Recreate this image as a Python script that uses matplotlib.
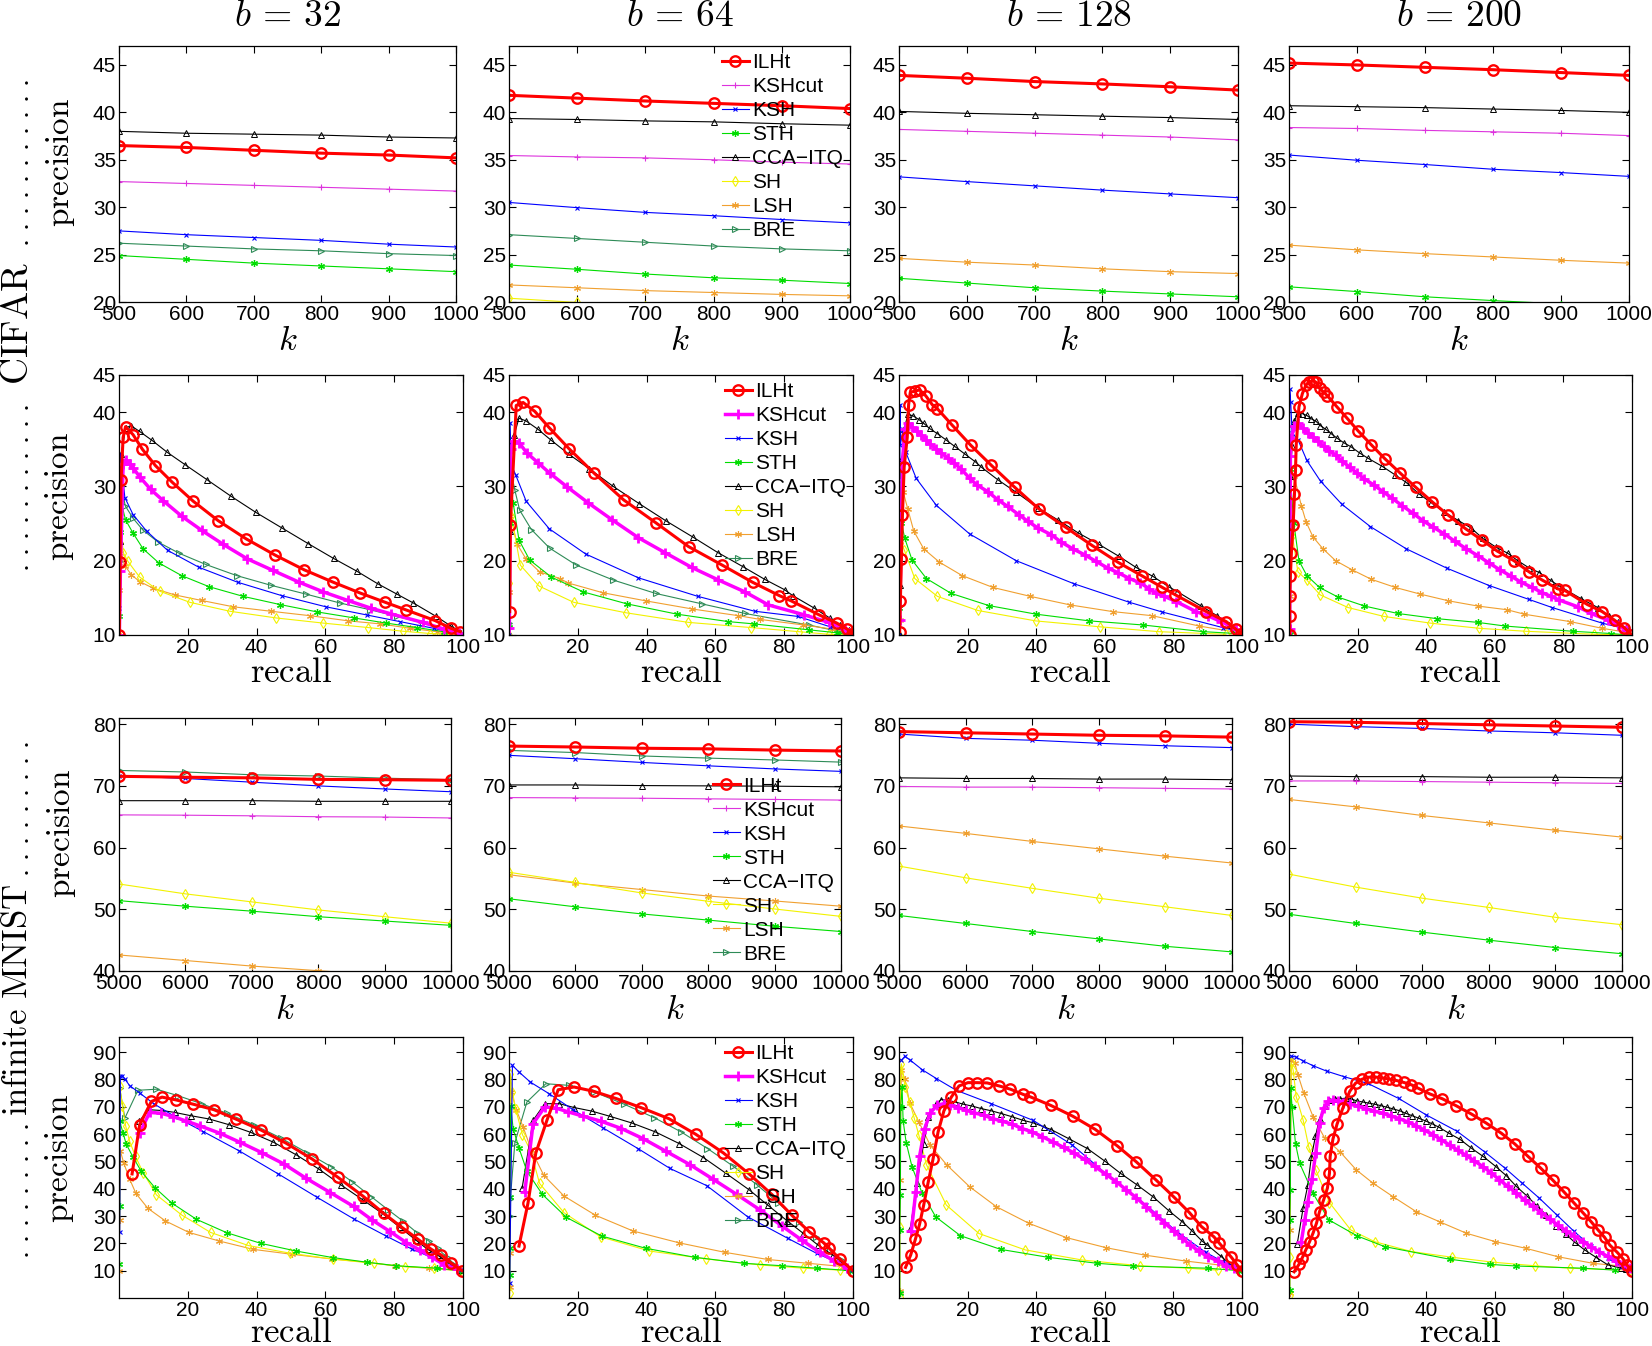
import matplotlib.pyplot as plt
import numpy as np

plt.rcParams['mathtext.fontset'] = 'cm'
plt.rcParams['font.family'] = ['Liberation Sans', 'DejaVu Sans']

methods = ['ILHt', 'KSHcut', 'KSH', 'STH', 'CCA\u2212ITQ', 'SH', 'LSH', 'BRE']
bits = [32, 64, 128, 200]

# ---- precision vs k, CIFAR ----
cifar_k = [500, 600, 700, 800, 900, 1000]
cifar_k_b32 = {
    'ILHt': [36.5, 36.3, 36.0, 35.7, 35.5, 35.2],
    'KSHcut': [32.7, 32.5, 32.3, 32.1, 31.9, 31.7],
    'KSH': [27.5, 27.1, 26.8, 26.5, 26.1, 25.8],
    'STH': [24.9, 24.5, 24.1, 23.8, 23.5, 23.2],
    'CCA\u2212ITQ': [38.0, 37.8, 37.7, 37.6, 37.4, 37.3],
    'BRE': [26.2, 25.9, 25.6, 25.4, 25.1, 24.9],
}
cifar_k_b64 = {
    'ILHt': [41.8, 41.5, 41.2, 40.95, 40.7, 40.4],
    'KSHcut': [35.45, 35.3, 35.2, 35.0, 34.75, 34.55],
    'KSH': [30.5, 29.95, 29.45, 29.1, 28.7, 28.35],
    'STH': [23.9, 23.45, 22.95, 22.55, 22.3, 21.95],
    'CCA\u2212ITQ': [39.35, 39.25, 39.1, 39.0, 38.8, 38.65],
    'SH': [20.4, 19.95, 19.6, 19.3, 19.0, 18.8],
    'LSH': [21.8, 21.5, 21.2, 21.0, 20.8, 20.65],
    'BRE': [27.1, 26.7, 26.3, 25.9, 25.6, 25.4],
}
cifar_k_b128 = {
    'ILHt': [43.9, 43.6, 43.25, 43.0, 42.7, 42.35],
    'KSHcut': [38.2, 38.0, 37.8, 37.6, 37.4, 37.1],
    'KSH': [33.2, 32.7, 32.25, 31.8, 31.4, 31.0],
    'STH': [22.5, 22.0, 21.5, 21.15, 20.85, 20.55],
    'CCA\u2212ITQ': [40.1, 39.9, 39.75, 39.6, 39.45, 39.25],
    'LSH': [24.6, 24.2, 23.9, 23.5, 23.2, 23.0],
}
cifar_k_b200 = {
    'ILHt': [45.2, 45.0, 44.75, 44.5, 44.2, 43.9],
    'KSHcut': [38.4, 38.3, 38.1, 37.95, 37.8, 37.55],
    'KSH': [35.5, 34.95, 34.5, 34.0, 33.65, 33.25],
    'STH': [21.6, 21.1, 20.55, 20.15, 19.8, 19.4],
    'CCA\u2212ITQ': [40.7, 40.6, 40.5, 40.35, 40.2, 40.0],
    'LSH': [26.0, 25.5, 25.1, 24.75, 24.4, 24.1],
}

# ---- precision vs k, infinite MNIST ----
mnist_k = [5000, 6000, 7000, 8000, 9000, 10000]
mnist_k_b32 = {
    'ILHt': [71.55, 71.4, 71.3, 71.05, 71.0, 70.9],
    'KSHcut': [65.3, 65.25, 65.15, 65.0, 64.95, 64.8],
    'KSH': [71.65, 71.2, 70.6, 70.0, 69.5, 69.05],
    'STH': [51.4, 50.5, 49.7, 48.8, 48.1, 47.4],
    'CCA\u2212ITQ': [67.6, 67.6, 67.6, 67.5, 67.5, 67.5],
    'SH': [54.1, 52.5, 51.2, 49.9, 48.8, 47.75],
    'LSH': [42.6, 41.7, 40.8, 40.05, 39.3, 38.5],
    'BRE': [72.5, 72.25, 71.8, 71.6, 71.25, 71.0],
}
mnist_k_b64 = {
    'ILHt': [76.45, 76.3, 76.1, 76.0, 75.8, 75.65],
    'KSHcut': [68.1, 68.05, 68.0, 67.9, 67.8, 67.7],
    'KSH': [74.95, 74.4, 73.8, 73.25, 72.75, 72.35],
    'STH': [51.7, 50.4, 49.25, 48.25, 47.25, 46.4],
    'CCA\u2212ITQ': [70.15, 70.15, 70.05, 70.0, 69.95, 69.85],
    'SH': [56.0, 54.35, 52.65, 51.3, 50.05, 48.85],
    'LSH': [55.6, 54.25, 53.2, 52.15, 51.35, 50.5],
    'BRE': [75.75, 75.4, 74.85, 74.5, 74.2, 73.85],
}
mnist_k_b128 = {
    'ILHt': [78.8, 78.6, 78.4, 78.2, 78.1, 77.9],
    'KSHcut': [69.9, 69.8, 69.8, 69.7, 69.6, 69.5],
    'KSH': [78.4, 77.7, 77.4, 76.9, 76.5, 76.2],
    'STH': [49.0, 47.7, 46.4, 45.2, 44.0, 43.1],
    'CCA\u2212ITQ': [71.3, 71.2, 71.2, 71.1, 71.1, 71.0],
    'SH': [57.0, 55.1, 53.4, 51.8, 50.4, 49.0],
    'LSH': [63.5, 62.3, 61.0, 59.8, 58.6, 57.5],
}
mnist_k_b200 = {
    'ILHt': [80.4, 80.3, 80.1, 79.9, 79.7, 79.5],
    'KSHcut': [70.8, 70.8, 70.7, 70.6, 70.5, 70.4],
    'KSH': [80.0, 79.6, 79.3, 78.9, 78.6, 78.2],
    'STH': [49.2, 47.7, 46.3, 45.0, 43.8, 42.8],
    'CCA\u2212ITQ': [71.6, 71.5, 71.5, 71.4, 71.4, 71.3],
    'SH': [55.7, 53.6, 51.8, 50.3, 48.7, 47.5],
    'LSH': [67.8, 66.6, 65.2, 64.0, 62.8, 61.7],
}

# ---- precision-recall, CIFAR (recall, precision) ----
cifar_pr_b32 = {
    'ILHt': [(0.1, 10.0), (0.3, 19.8), (0.6, 30.9), (1.2, 36.6), (1.9, 38.05), (4.1, 36.96), (6.8, 35.0), (10.6, 32.8),
             (15.5, 30.55), (21.6, 28.0), (28.8, 25.4), (36.9, 22.96), (45.4, 20.75), (53.9, 18.76), (62.3, 17.1),
             (70.1, 15.65), (77.4, 14.4), (83.3, 13.4), (91.9, 11.94), (96.5, 10.9), (99.2, 10.45)],
    'KSHcut': [(0.1, 10.0), (0.4, 18.6), (1.2, 33.0), (1.9, 33.6), (3.1, 33.0), (4.1, 32.5), (6.0, 31.3), (9.2, 29.6),
               (12.8, 28.1), (18.2, 26.0), (24.0, 24.1), (30.3, 22.2), (37.3, 20.25), (44.7, 18.7), (52.4, 17.1),
               (59.4, 15.8), (66.5, 14.65), (73.3, 13.6), (79.0, 12.85), (88.3, 11.7), (94.4, 10.8), (98.7, 10.3)],
    'KSH': [(0.05, 13.6), (0.2, 32.6), (0.4, 34.4), (1.7, 28.5), (4.1, 26.2), (8.0, 24.0), (14.1, 21.4), (23.3, 19.1),
            (34.5, 17.1), (47.3, 15.3), (60.1, 13.8), (72.0, 12.7), (81.7, 11.8), (91.5, 10.9), (98.3, 10.3)],
    'STH': [(0.05, 12.5), (0.2, 23.8), (0.4, 28.3), (1.9, 25.5), (4.1, 23.7), (7.0, 21.6), (11.6, 19.7), (18.2, 18.0),
            (26.2, 16.5), (36.1, 15.2), (46.8, 14.1), (57.7, 13.1), (68.3, 12.3), (77.7, 11.6), (86.6, 11.0),
            (94.4, 10.45), (99.2, 10.1)],
    'CCA\u2212ITQ': [(0.05, 10.0), (0.2, 22.6), (0.7, 34.4), (1.9, 37.8), (3.4, 38.2), (6.0, 37.4), (9.6, 36.2),
                     (14.0, 34.6), (19.3, 32.9), (25.6, 30.9), (32.5, 28.7), (39.8, 26.5), (47.4, 24.4), (55.0, 22.3),
                     (62.4, 20.3), (69.1, 18.6), (75.2, 16.9), (80.8, 15.5), (85.6, 14.3), (92.2, 12.5), (96.5, 11.2),
                     (99.2, 10.45)],
    'SH': [(0.05, 10.0), (0.2, 22.4), (0.4, 26.3), (1.2, 21.1), (2.6, 19.9), (6.0, 17.8), (11.8, 15.9), (20.6, 14.4),
           (32.2, 13.2), (45.6, 12.3), (59.4, 11.6), (72.5, 11.0), (82.7, 10.5), (90.5, 10.2), (99.2, 10.0)],
    'LSH': [(0.05, 16.1), (0.2, 21.1), (1.7, 19.35), (3.6, 18.1), (6.0, 17.2), (9.9, 16.3), (16.2, 15.4), (24.0, 14.65),
            (33.2, 13.8), (44.1, 13.2), (55.5, 12.6), (66.7, 11.9), (75.9, 11.5), (84.7, 10.9), (92.4, 10.45),
            (98.7, 10.1)],
    'BRE': [(0.2, 19.9), (0.4, 28.1), (0.7, 30.1), (1.8, 27.4), (4.1, 25.7), (7.0, 24.1), (11.4, 22.5), (17.5, 21.0),
            (25.2, 19.5), (34.2, 18.0), (44.1, 16.7), (54.4, 15.5), (64.3, 14.3), (73.0, 13.4), (80.8, 12.5),
            (88.5, 11.6), (95.3, 10.8), (99.0, 10.3)],
}
cifar_pr_b64 = {
    'ILHt': [(0.2, 13.15), (0.4, 24.8), (2.1, 40.9), (4.1, 41.3), (7.5, 40.1), (11.7, 37.9), (17.4, 35.1), (24.7, 31.8),
             (33.3, 28.2), (42.7, 25.1), (52.2, 21.9), (62.0, 19.4), (70.8, 17.1), (78.6, 15.3), (82.0, 14.6),
             (90.2, 12.7), (95.3, 11.6), (98.3, 10.8), (99.7, 10.2)],
    'KSHcut': [(0.1, 11.0), (0.5, 35.0), (1.2, 36.1), (2.9, 35.9), (5.2, 34.5), (8.4, 33.2), (11.8, 31.8), (17.0, 29.9),
               (23.0, 27.8), (30.0, 25.5), (37.6, 23.1), (45.3, 21.1), (53.1, 19.1), (60.9, 17.4), (68.6, 15.8),
               (75.4, 14.05), (85.9, 12.7), (92.9, 11.7), (97.8, 10.8)],
    'KSH': [(0.05, 10.0), (0.3, 38.6), (0.7, 32.9), (1.9, 31.6), (5.0, 28.0), (11.7, 24.3), (22.3, 20.9), (37.6, 17.7),
            (54.9, 15.2), (71.4, 13.2), (84.0, 12.5), (93.4, 11.1), (99.0, 10.45)],
    'STH': [(0.05, 11.1), (0.2, 25.1), (0.4, 30.5), (1.2, 27.8), (2.9, 22.8), (6.0, 20.1), (12.3, 17.8), (21.6, 15.8),
            (34.2, 14.2), (48.9, 12.8), (63.8, 11.8), (71.1, 11.5), (87.1, 10.7), (95.3, 10.3), (99.2, 10.0)],
    'CCA\u2212ITQ': [(0.1, 10.0), (0.4, 24.0), (1.5, 36.9), (2.9, 39.2), (5.0, 38.8), (8.4, 37.7), (12.3, 36.2),
                     (17.5, 34.3), (23.3, 32.4), (30.3, 30.0), (37.8, 27.7), (45.5, 25.4), (53.4, 23.2), (60.7, 21.1),
                     (68.0, 19.2), (74.3, 17.5), (80.1, 16.1), (82.5, 15.3), (88.8, 13.6), (93.2, 12.3), (96.3, 11.3),
                     (98.7, 10.7)],
    'SH': [(0.05, 10.0), (0.1, 17.0), (0.2, 27.8), (0.7, 26.0), (3.3, 19.4), (8.7, 16.6), (18.8, 14.4), (33.9, 13.0),
           (52.1, 11.7), (70.4, 11.0), (84.2, 10.45), (92.9, 10.1), (99.2, 10.0)],
    'LSH': [(0.05, 15.8), (0.4, 26.0), (2.4, 22.2), (5.0, 20.2), (8.9, 18.5), (14.8, 17.6), (17.2, 17.0), (27.2, 15.7),
            (39.7, 14.6), (53.3, 13.5), (66.7, 12.6), (73.0, 12.1), (85.6, 11.35), (93.9, 10.8), (99.2, 10.3)],
    'BRE': [(0.05, 11.6), (0.3, 30.5), (0.7, 31.8), (1.7, 29.5), (3.1, 26.8), (6.5, 24.2), (11.8, 21.7), (19.6, 19.4),
            (30.3, 17.4), (42.6, 15.6), (56.0, 14.2), (68.6, 12.9), (87.1, 11.35), (95.8, 10.5), (99.2, 10.2)],
}
cifar_pr_b128 = {
    'ILHt': [(0.2, 10.45), (0.4, 14.6), (0.7, 20.2), (1.0, 26.1), (1.5, 32.6), (2.4, 36.6), (2.8, 41.0), (3.3, 42.7),
             (4.6, 42.8), (6.0, 43.0), (7.8, 42.2), (9.7, 41.0), (11.2, 40.45), (15.5, 38.25), (20.9, 35.55),
             (26.9, 32.85), (33.7, 29.9), (40.7, 27.0), (48.6, 24.5), (56.3, 22.05), (63.8, 19.8), (70.9, 17.95),
             (76.8, 16.4), (80.6, 15.4), (89.6, 13.15), (95.4, 11.8), (98.3, 10.75), (99.8, 10.1)],
    'KSHcut': [(0.2, 12.0), (1.0, 33.2), (1.7, 37.7), (2.6, 38.5), (3.9, 38.0), (5.2, 37.4), (6.5, 36.9), (7.8, 36.3),
               (9.1, 35.7), (10.7, 35.1), (12.3, 34.5), (14.3, 33.8), (15.9, 33.2), (18.2, 32.3), (20.6, 31.1),
               (22.7, 30.2), (25.9, 29.3), (28.8, 28.2), (31.7, 27.3), (34.9, 26.2), (37.6, 25.3), (40.5, 24.4),
               (44.4, 23.5), (47.3, 22.5), (50.7, 21.6), (54.1, 20.8), (57.5, 19.9), (60.9, 19.0), (63.8, 18.4),
               (67.2, 17.6), (70.4, 17.0), (73.0, 16.2), (75.0, 15.6), (77.4, 15.2), (80.8, 14.5), (86.6, 13.15),
               (90.0, 12.6), (93.9, 11.8), (98.3, 10.8)],
    'KSH': [(0.1, 10.0), (0.3, 41.0), (0.4, 35.6), (1.2, 37.7), (1.9, 34.7), (5.0, 31.1), (10.9, 27.45), (20.6, 23.6),
            (34.2, 20.0), (51.0, 16.9), (67.2, 14.4), (76.7, 13.1), (94.4, 11.0), (99.2, 10.45)],
    'STH': [(0.1, 13.6), (0.2, 31.6), (0.7, 25.1), (1.7, 23.0), (3.8, 20.1), (8.0, 17.6), (15.2, 15.6), (26.2, 13.96),
            (40.0, 12.8), (55.5, 11.9), (71.1, 11.35), (88.7, 10.45), (98.3, 10.2)],
    'CCA\u2212ITQ': [(0.2, 10.0), (0.2, 16.7), (0.9, 33.8), (1.5, 37.7), (2.6, 39.7), (4.1, 39.5), (5.8, 39.0),
                     (7.2, 38.5), (8.9, 37.8), (11.2, 37.1), (13.6, 36.3), (16.2, 35.4), (19.1, 34.4), (22.3, 33.3),
                     (24.0, 32.6), (28.8, 30.9), (34.2, 29.2), (40.5, 27.1), (46.3, 25.5), (52.4, 23.7), (58.3, 22.2),
                     (64.1, 20.6), (69.1, 19.1), (74.0, 17.9), (78.6, 16.5), (81.1, 15.85), (88.1, 13.9), (92.7, 12.6),
                     (96.3, 11.35), (98.1, 10.8)],
    'SH': [(0.1, 10.0), (0.2, 30.0), (0.4, 22.4), (1.5, 21.5), (4.6, 17.6), (11.2, 15.2), (23.0, 13.3), (39.8, 11.9),
           (58.6, 11.1), (75.7, 10.45), (95.3, 10.1)],
    'LSH': [(0.2, 12.0), (0.4, 29.6), (1.2, 29.3), (2.6, 26.9), (4.3, 24.0), (7.2, 21.6), (11.8, 19.8), (18.4, 18.0),
            (27.4, 16.4), (38.3, 15.2), (49.9, 14.05), (62.3, 13.15), (73.8, 12.6), (87.6, 11.2), (97.3, 10.45)],
}
cifar_pr_b200 = {
    'ILHt': [(0.2, 10.0), (0.2, 12.5), (0.2, 15.2), (0.4, 17.9), (0.7, 21.1), (1.2, 24.75), (1.6, 29.0), (1.9, 32.2),
             (2.1, 35.6), (2.9, 40.7), (3.9, 42.5), (4.9, 43.6), (5.8, 44.1), (7.0, 44.2), (8.0, 44.0), (8.9, 43.2),
             (10.1, 42.7), (11.2, 42.2), (14.0, 40.7), (16.9, 39.2), (20.1, 37.5), (24.0, 35.6), (27.9, 33.75),
             (32.4, 31.8), (36.9, 29.9), (41.8, 27.9), (46.5, 26.1), (51.5, 24.3), (56.2, 22.8), (60.7, 21.3),
             (65.6, 20.0), (70.0, 18.5), (73.8, 17.4), (78.4, 16.2), (80.4, 16.0), (87.0, 14.1), (91.3, 13.15),
             (94.9, 12.0), (97.7, 11.0), (100.0, 10.0)],
    'KSHcut': [(0.2, 10.8), (0.4, 34.1), (0.7, 36.5), (1.5, 38.1), (2.6, 38.5), (4.1, 37.8), (5.5, 37.2), (7.0, 36.7),
               (8.4, 36.1), (10.1, 35.4), (11.8, 34.8), (13.6, 34.2), (15.5, 33.4), (17.7, 32.6), (19.8, 31.8),
               (22.0, 31.0), (24.7, 30.2), (27.4, 29.3), (30.1, 28.4), (33.0, 27.4), (36.1, 26.4), (39.0, 25.4),
               (42.1, 24.5), (45.3, 23.6), (48.4, 22.6), (51.7, 21.6), (55.0, 20.7), (58.3, 19.7), (61.4, 18.8),
               (64.8, 17.9), (67.7, 17.1), (70.9, 16.4), (73.8, 15.7), (76.4, 15.2), (78.8, 14.7), (84.2, 13.8),
               (88.1, 12.9), (92.9, 12.0), (95.8, 11.35), (98.3, 10.7)],
    'KSH': [(0.1, 10.0), (0.2, 43.1), (0.5, 41.35), (0.9, 37.2), (2.6, 36.3), (5.2, 33.5), (9.2, 30.7), (15.4, 27.6),
            (23.7, 24.6), (34.2, 21.6), (46.0, 19.0), (58.4, 16.65), (69.9, 14.8), (76.7, 13.7), (91.3, 11.6),
            (98.3, 10.8)],
    'STH': [(0.2, 10.2), (0.2, 32.3), (1.4, 25.1), (2.9, 20.0), (5.2, 18.0), (8.9, 16.4), (14.3, 15.1), (22.0, 13.9),
            (31.7, 12.9), (43.1, 12.2), (55.0, 11.7), (63.1, 11.2), (82.7, 10.5), (93.9, 10.2), (99.2, 10.0)],
    'CCA\u2212ITQ': [(0.2, 10.0), (0.4, 31.4), (0.9, 35.4), (1.5, 38.8), (2.6, 39.9), (3.9, 39.8), (5.2, 39.55),
                     (6.5, 39.1), (7.8, 38.8), (9.1, 38.2), (10.7, 37.7), (12.3, 37.1), (14.0, 36.5), (15.9, 35.9),
                     (18.2, 35.3), (20.6, 34.5), (23.0, 33.8), (27.2, 32.7), (30.8, 31.6), (34.0, 30.6), (37.9, 29.0),
                     (41.5, 27.8), (45.3, 26.55), (49.4, 25.4), (53.1, 24.4), (56.5, 23.0), (60.4, 21.8), (63.8, 21.0),
                     (66.7, 20.0), (70.1, 19.0), (73.0, 18.4), (76.4, 17.3), (78.8, 16.6), (85.1, 14.9), (90.0, 13.7),
                     (93.4, 12.5), (95.8, 11.7), (98.3, 10.9)],
    'SH': [(0.1, 10.0), (0.2, 27.8), (0.4, 25.5), (1.0, 23.3), (2.6, 18.5), (5.2, 17.4), (9.1, 15.4), (17.2, 13.7),
           (27.7, 12.5), (41.2, 11.6), (55.5, 10.9), (69.1, 10.5), (89.0, 10.1), (99.2, 10.0)],
    'LSH': [(0.2, 15.2), (0.7, 31.1), (1.5, 31.4), (3.6, 27.4), (5.0, 25.2), (7.0, 23.2), (9.9, 21.6), (13.6, 20.0),
            (18.3, 18.8), (24.0, 17.5), (31.0, 16.4), (38.3, 15.5), (46.5, 14.6), (55.0, 13.9), (63.6, 13.4),
            (68.6, 12.8), (82.0, 11.8), (91.3, 10.9), (97.3, 10.45)],
}

# ---- precision-recall, infinite MNIST ----
mnist_pr_b32 = {
    'ILHt': [(3.8, 45.4), (6.0, 63.4), (9.4, 71.9), (12.5, 73.5), (16.5, 72.5), (21.6, 70.9), (27.6, 68.9),
             (33.9, 65.5), (41.2, 61.5), (48.5, 56.7), (56.2, 50.8), (63.6, 44.2), (70.8, 37.4), (76.9, 31.0),
             (82.2, 25.9), (86.9, 21.5), (90.8, 17.8), (93.7, 15.7), (96.6, 12.7), (99.7, 10.0)],
    'KSHcut': [(6.0, 60.3), (8.9, 67.9), (12.3, 67.6), (15.7, 66.4), (19.4, 64.8), (23.5, 63.0), (29.3, 60.3),
               (35.3, 56.9), (41.5, 53.2), (48.0, 49.0), (54.4, 43.8), (61.4, 38.6), (68.2, 33.5), (73.5, 28.6),
               (78.8, 24.3), (83.5, 20.3), (87.4, 17.6), (91.0, 14.9), (94.6, 12.1), (98.3, 10.5)],
    'KSH': [(0.2, 24.3), (0.4, 81.1), (1.0, 81.3), (1.7, 80.1), (3.1, 77.7), (6.0, 75.0), (10.1, 71.1), (16.2, 66.4),
            (24.5, 60.9), (35.0, 53.8), (46.3, 45.4), (57.5, 36.9), (68.3, 28.9), (77.6, 22.7), (85.3, 17.8),
            (91.5, 14.5), (96.3, 11.8), (99.5, 10.2)],
    'STH': [(0.05, 12.3), (0.2, 33.5), (0.2, 64.6), (1.2, 60.3), (2.1, 56.3), (4.1, 51.5), (6.5, 46.3), (10.4, 40.4),
            (15.4, 34.7), (22.5, 28.8), (31.3, 23.9), (41.2, 20.0), (51.4, 17.2), (62.1, 14.8), (72.0, 13.1),
            (80.6, 11.8), (92.4, 10.9), (99.2, 10.0)],
    'CCA\u2212ITQ': [(5.8, 64.6), (8.6, 68.9), (12.5, 68.6), (16.2, 67.9), (20.9, 66.7), (26.2, 65.5), (32.0, 63.4),
                     (38.3, 60.6), (44.9, 57.0), (51.5, 52.4), (58.2, 47.1), (64.5, 41.4), (70.9, 35.9), (76.7, 30.8),
                     (81.6, 25.9), (86.3, 21.2), (89.7, 17.8), (92.6, 15.7), (96.0, 12.7), (99.2, 10.2)],
    'SH': [(0.2, 77.4), (1.0, 70.3), (1.9, 63.1), (3.1, 57.3), (4.8, 51.8), (7.0, 45.9), (10.9, 37.7), (18.2, 30.4),
           (26.6, 24.0), (37.6, 19.2), (49.7, 16.4), (62.3, 14.2), (74.0, 12.7), (83.2, 11.5), (91.5, 10.9),
           (99.2, 10.0)],
    'LSH': [(0.05, 10.0), (0.2, 28.6), (0.4, 53.8), (1.4, 49.3), (3.1, 43.5), (4.9, 38.3), (8.4, 32.8), (13.5, 28.2),
            (20.3, 24.0), (29.0, 20.9), (39.0, 17.8), (50.2, 16.0), (61.8, 14.3), (72.0, 13.1), (80.3, 11.7),
            (90.0, 10.9), (99.0, 10.0)],
    'BRE': [(0.2, 76.8), (1.7, 65.8), (5.5, 76.0), (10.9, 76.4), (17.2, 74.0), (24.0, 71.1), (31.3, 67.6),
            (39.2, 63.4), (47.1, 58.5), (54.6, 53.2), (61.6, 48.1), (67.7, 42.6), (73.3, 37.1), (78.3, 32.2),
            (82.7, 28.0), (86.6, 23.9), (90.0, 20.9), (92.6, 18.2), (95.3, 14.9), (97.8, 12.1), (99.7, 10.2)],
}
mnist_pr_b64 = {
    'ILHt': [(2.9, 19.0), (5.5, 34.6), (7.8, 53.1), (11.1, 65.3), (14.3, 76.2), (18.9, 77.2), (24.7, 75.6),
             (31.1, 73.0), (38.3, 69.7), (46.5, 65.6), (54.3, 59.9), (62.3, 53.1), (69.9, 45.3), (76.4, 37.9),
             (82.2, 30.3), (87.3, 24.2), (91.5, 20.2), (93.1, 18.2), (96.3, 14.1), (100.0, 10.0)],
    'KSHcut': [(4.6, 38.9), (7.0, 63.8), (10.4, 69.9), (13.6, 69.5), (17.2, 68.1), (21.6, 66.5), (26.7, 64.7),
               (32.7, 62.0), (39.0, 58.3), (45.6, 53.7), (52.6, 48.8), (59.4, 43.4), (66.2, 37.9), (73.0, 32.2),
               (79.3, 26.4), (85.1, 21.2), (90.3, 16.7), (94.4, 13.7), (98.3, 10.9)],
    'KSH': [(0.2, 5.4), (1.0, 85.1), (2.9, 82.7), (6.2, 79.0), (11.6, 74.8), (18.6, 68.9), (27.4, 62.2), (37.6, 54.6),
            (46.8, 47.4), (57.5, 41.1), (69.4, 29.7), (81.1, 21.8), (89.5, 16.3), (94.9, 13.3), (99.7, 10.2)],
    'STH': [(0.2, 8.4), (0.2, 18.2), (0.3, 37.0), (0.5, 70.2), (1.2, 62.0), (2.9, 54.9), (5.2, 46.4), (9.7, 37.9),
            (16.7, 29.5), (26.9, 22.7), (39.7, 18.2), (54.0, 14.9), (68.2, 12.7), (79.4, 11.8), (89.5, 10.9),
            (99.2, 10.0)],
    'CCA\u2212ITQ': [(3.8, 40.1), (7.0, 65.0), (10.4, 71.1), (14.6, 71.1), (18.9, 69.7), (24.0, 68.4), (29.3, 66.5),
                     (35.8, 64.0), (42.5, 60.8), (49.5, 56.5), (56.5, 51.4), (63.1, 45.6), (69.9, 39.5), (75.2, 34.0),
                     (80.8, 28.3), (85.6, 23.6), (89.8, 19.4), (94.1, 15.7), (98.3, 11.5)],
    'SH': [(0.2, 1.7), (0.4, 82.1), (1.0, 75.4), (1.9, 69.3), (3.9, 59.8), (6.2, 54.1), (8.9, 41.9), (16.0, 31.2),
           (26.6, 22.4), (40.8, 17.2), (57.3, 14.3), (73.0, 12.1), (85.6, 10.9), (96.3, 10.2)],
    'LSH': [(0.2, 4.2), (0.2, 16.3), (0.7, 75.4), (2.1, 68.9), (4.1, 62.6), (6.5, 54.1), (10.1, 44.9), (16.0, 37.3),
            (25.1, 30.3), (36.1, 24.5), (49.4, 20.2), (62.8, 16.7), (75.2, 14.1), (86.9, 12.7), (97.1, 11.5)],
    'BRE': [(0.2, 30.0), (0.4, 36.4), (1.7, 56.8), (5.2, 71.7), (10.7, 78.4), (17.5, 77.8), (24.7, 75.4), (33.5, 70.9),
            (42.2, 66.0), (50.0, 60.8), (57.7, 54.7), (65.2, 48.2), (72.0, 41.5), (78.3, 34.8), (84.2, 27.9),
            (89.3, 22.4), (93.4, 17.5), (96.8, 13.9), (99.7, 10.5)],
}
mnist_pr_b128 = {
    'ILHt': [(1.9, 11.2), (3.4, 15.7), (4.8, 21.6), (6.0, 27.0), (7.2, 34.0), (8.5, 42.3), (9.9, 50.7), (11.4, 60.8),
             (13.1, 68.5), (15.3, 73.6), (17.5, 77.6), (20.1, 78.8), (22.7, 78.8), (25.7, 78.7), (29.2, 77.6),
             (32.5, 76.4), (36.2, 74.5), (38.3, 73.6), (44.2, 70.5), (50.7, 66.5), (57.2, 61.7), (63.6, 55.7),
             (69.2, 49.8), (75.0, 43.1), (80.1, 37.0), (84.7, 31.2), (88.2, 26.1), (91.8, 22.4), (93.3, 20.2),
             (96.9, 14.9), (98.6, 12.1), (100.0, 10.0)],
    'KSHcut': [(3.6, 24.5), (4.9, 38.9), (6.0, 51.9), (7.5, 62.0), (9.1, 67.7), (11.1, 70.5), (13.0, 71.1),
               (14.9, 70.5), (17.2, 69.7), (19.6, 68.7), (22.0, 67.7), (24.7, 66.9), (27.4, 65.6), (30.1, 64.7),
               (33.0, 63.6), (35.9, 62.0), (38.8, 60.8), (41.8, 59.0), (44.9, 57.1), (48.0, 55.1), (51.0, 53.1),
               (54.1, 50.7), (57.0, 48.2), (60.3, 45.3), (63.4, 42.5), (66.3, 39.5), (69.2, 36.7), (72.1, 33.4),
               (74.8, 30.3), (77.4, 27.5), (80.1, 24.6), (82.5, 21.8), (84.9, 19.4), (87.4, 17.2), (90.0, 15.1),
               (92.9, 13.7), (95.3, 11.8), (97.8, 10.9)],
    'KSH': [(0.7, 87.0), (1.7, 88.4), (3.1, 87.2), (6.8, 83.5), (10.9, 80.3), (16.7, 76.0), (26.9, 71.1), (39.1, 65.0),
            (50.4, 56.1), (60.9, 44.9), (71.9, 34.2), (80.7, 24.6), (89.4, 16.7), (94.4, 13.3), (99.0, 10.9)],
    'STH': [(0.2, 1.7), (0.2, 24.9), (0.4, 37.6), (0.5, 69.9), (0.9, 77.2), (1.2, 64.8), (2.1, 56.8), (3.8, 48.0),
            (6.7, 38.5), (10.7, 29.7), (17.9, 22.8), (29.6, 17.8), (43.4, 14.9), (57.8, 12.7), (68.2, 11.7),
            (90.0, 10.9), (99.2, 10.0)],
    'CCA\u2212ITQ': [(3.3, 25.2), (5.2, 42.1), (7.2, 56.5), (8.6, 66.3), (10.7, 70.9), (12.3, 72.6), (14.3, 72.3),
                     (16.4, 71.7), (18.8, 70.9), (21.4, 70.2), (24.0, 69.3), (26.9, 68.5), (29.8, 67.5), (33.0, 66.3),
                     (36.2, 65.0), (39.1, 64.1), (42.3, 62.6), (44.4, 61.6), (49.5, 58.3), (54.9, 54.7), (60.0, 50.1),
                     (64.6, 45.6), (69.5, 41.3), (74.1, 37.0), (78.7, 31.9), (82.6, 27.9), (85.4, 24.6), (88.4, 20.8),
                     (89.9, 19.4), (94.0, 15.1), (97.2, 11.7), (98.6, 10.9)],
    'SH': [(0.2, 0.3), (0.2, 26.1), (0.4, 81.5), (0.7, 85.7), (1.8, 77.2), (3.1, 71.7), (4.4, 66.0), (5.8, 59.5),
           (8.0, 48.8), (13.8, 34.0), (23.3, 23.6), (36.8, 17.6), (53.4, 13.9), (70.3, 11.8), (84.2, 10.9),
           (92.9, 10.2)],
    'LSH': [(0.2, 2.5), (0.2, 43.1), (0.7, 83.3), (1.7, 80.3), (3.1, 71.5), (5.8, 64.4), (9.1, 55.9), (14.0, 48.6),
            (20.6, 40.7), (28.4, 33.4), (37.9, 27.3), (48.8, 22.1), (60.4, 18.4), (71.6, 15.7), (83.7, 13.5),
            (95.3, 11.8)],
}
mnist_pr_b200 = {
    'ILHt': [(1.5, 9.6), (2.9, 12.3), (3.9, 14.8), (4.9, 17.6), (6.0, 20.6), (7.0, 23.7), (8.0, 27.3), (8.9, 31.6),
             (10.1, 35.9), (11.2, 40.2), (11.8, 45.7), (12.0, 51.8), (12.8, 58.1), (14.0, 63.6), (15.7, 69.5),
             (17.7, 75.6), (19.4, 78.6), (21.4, 80.1), (23.3, 80.8), (25.5, 80.8), (27.4, 80.5), (29.3, 80.1),
             (31.3, 79.6), (33.4, 78.9), (35.7, 78.0), (37.6, 76.8), (41.0, 74.7), (44.7, 72.9), (48.8, 70.3),
             (53.2, 67.3), (57.5, 64.0), (61.9, 60.3), (65.8, 56.4), (69.7, 51.8), (73.4, 47.5), (77.0, 43.0),
             (80.1, 38.9), (83.0, 34.9), (85.7, 31.2), (88.1, 27.9), (90.1, 24.9), (92.0, 22.2), (93.5, 19.4),
             (95.7, 16.7), (97.4, 14.3), (98.5, 12.1), (100.0, 10.0)],
    'KSHcut': [(3.6, 20.6), (4.6, 28.6), (5.5, 35.3), (6.7, 43.5), (7.8, 53.0), (8.9, 64.0), (10.1, 69.5),
               (11.4, 71.9), (12.8, 72.5), (14.3, 72.1), (15.7, 71.5), (17.7, 71.0), (20.0, 70.2), (22.4, 69.3),
               (24.8, 68.4), (27.4, 67.6), (29.8, 66.6), (32.2, 65.6), (34.7, 64.4), (37.1, 63.0), (39.5, 61.4),
               (42.0, 59.8), (44.4, 57.9), (46.8, 56.0), (49.2, 54.1), (51.6, 52.2), (54.0, 50.2), (56.5, 48.1),
               (58.9, 45.8), (61.3, 43.3), (63.8, 40.8), (66.3, 38.3), (68.7, 35.9), (71.1, 33.5), (73.6, 31.2),
               (76.0, 28.9), (78.4, 26.7), (80.8, 24.6), (83.2, 22.6), (85.7, 20.6), (88.1, 18.7), (90.5, 16.9),
               (92.9, 15.2), (95.4, 13.7), (97.5, 12.2), (99.3, 10.9)],
    'KSH': [(0.7, 88.5), (2.0, 88.2), (4.0, 86.8), (7.0, 85.0), (11.0, 83.0), (16.0, 81.0), (23.0, 78.5), (32.0, 73.0),
            (40.0, 67.0), (49.0, 61.0), (57.0, 53.5), (63.0, 47.5), (68.0, 42.0), (73.0, 36.5), (78.0, 30.5),
            (83.0, 24.5), (88.0, 19.0), (93.0, 14.5), (97.0, 11.5), (99.5, 10.3)],
    'STH': [(0.2, 2.8), (0.2, 28.6), (0.4, 39.5), (0.5, 76.8), (0.9, 69.8), (1.9, 56.4), (3.1, 49.3), (7.0, 38.3),
            (11.6, 28.6), (19.9, 22.7), (27.9, 18.8), (46.8, 14.2), (58.5, 12.3), (66.3, 11.7), (85.7, 10.9),
            (95.0, 10.2)],
    'CCA\u2212ITQ': [(2.4, 19.8), (4.1, 32.8), (5.5, 41.4), (6.5, 51.5), (7.7, 59.1), (8.9, 65.6), (10.4, 70.1),
                     (11.8, 72.5), (13.3, 72.9), (14.8, 72.9), (16.5, 73.1), (18.2, 72.8), (19.8, 72.1), (21.6, 71.7),
                     (23.3, 71.3), (25.0, 70.9), (26.7, 70.4), (28.6, 69.8), (30.3, 69.2), (32.3, 68.5), (34.0, 67.6),
                     (35.9, 66.7), (37.8, 65.8), (39.8, 64.8), (41.8, 63.7), (43.7, 62.5), (46.6, 60.3), (49.8, 58.1),
                     (53.2, 54.8), (56.6, 51.8), (60.3, 48.1), (63.4, 44.7), (66.3, 40.8), (69.4, 37.3), (72.3, 33.7),
                     (75.0, 30.4), (77.9, 26.5), (80.7, 23.3), (83.3, 20.4), (86.2, 17.6), (89.6, 14.8), (93.0, 12.1),
                     (96.9, 10.9), (98.3, 10.5)],
    'SH': [(0.2, 1.0), (0.2, 15.0), (0.6, 86.2), (1.2, 83.5), (2.1, 73.7), (4.1, 65.2), (5.8, 55.1), (7.8, 46.9),
           (11.8, 34.9), (18.0, 24.9), (25.0, 20.6), (35.7, 17.0), (47.6, 14.9), (59.5, 13.1), (71.6, 11.8),
           (81.8, 10.9), (99.3, 10.2)],
    'LSH': [(0.2, 2.0), (0.2, 25.0), (0.7, 87.2), (1.7, 86.0), (2.6, 81.7), (4.3, 75.0), (7.0, 66.4), (10.4, 58.5),
            (14.8, 53.6), (19.6, 46.9), (24.5, 42.0), (30.3, 37.1), (37.1, 31.6), (43.9, 27.9), (51.7, 23.7),
            (60.2, 20.6), (69.0, 18.2), (78.4, 15.1), (88.6, 12.7), (98.3, 11.5)],
}

k_panels = [[cifar_k_b32, cifar_k_b64, cifar_k_b128, cifar_k_b200],
            [mnist_k_b32, mnist_k_b64, mnist_k_b128, mnist_k_b200]]
pr_panels = [[cifar_pr_b32, cifar_pr_b64, cifar_pr_b128, cifar_pr_b200],
             [mnist_pr_b32, mnist_pr_b64, mnist_pr_b128, mnist_pr_b200]]


def style(name, thick):
    base = {
        'ILHt': dict(color='#ff0000', marker='o', mfc='none', lw=2.2, ms=7.5, mew=1.7),
        'KSHcut': dict(color='#ff00ff', marker='+', lw=2.5, ms=7.5, mew=2.0) if thick else
                  dict(color='#dd33dd', marker='+', lw=0.8, ms=4, mew=0.8),
        'KSH': dict(color='#0000ff', marker='x', lw=0.8, ms=3, mew=0.8),
        'STH': dict(color='#00dd00', marker=(6, 2, 0), lw=0.8, ms=5, mew=0.9),
        'CCA\u2212ITQ': dict(color='#000000', marker='^', mfc='none', lw=0.8, ms=5, mew=0.7),
        'SH': dict(color='#f2f200', marker='d', mfc='none', lw=0.8, ms=5, mew=0.8),
        'LSH': dict(color='#f0a030', marker=(6, 2, 0), lw=0.8, ms=5, mew=0.8),
        'BRE': dict(color='#2e8b57', marker='>', mfc='none', lw=0.8, ms=5, mew=0.8),
    }
    return base[name]


fig = plt.figure(figsize=(16.52, 13.46), dpi=100)
W, H = 1652.0, 1346.0
col_left = [119, 509, 899, 1289]
row_right = [[456, 850, 1238, 1629],
             [463, 853, 1242, 1632],
             [451, 841, 1232, 1622],
             [463, 853, 1242, 1632]]
row_top = [46, 375, 718, 1037]
row_bot = [302, 635, 971, 1298]


def add_ax(r, c):
    return fig.add_axes([col_left[c] / W, 1 - row_bot[r] / H, (row_right[r][c] - col_left[c]) / W,
                         (row_bot[r] - row_top[r]) / H])


def finish(ax):
    ax.tick_params(direction='in', top=True, right=True, length=5, width=0.8, labelsize=15, pad=2)
    for s in ax.spines.values():
        s.set_linewidth(0.9)


legend_locs = ['upper right', 'upper right', 'lower right', 'upper right']
leg_kw = dict(frameon=False, fontsize=15, handlelength=1.3, handletextpad=0.15, labelspacing=0.24,
              borderaxespad=0.15, borderpad=0.2)

for g in range(2):
    # k rows
    r = 2 * g
    for c in range(4):
        ax = add_ax(r, c)
        data = k_panels[g][c]
        kk = cifar_k if g == 0 else mnist_k
        hs = {}
        for name in reversed(methods):
            if name in data:
                hs[name], = ax.plot(kk, data[name], **style(name, False))
        ax.set_xlim(kk[0], kk[-1])
        if g == 0:
            ax.set_ylim(20, 47)
            ax.set_yticks([20, 25, 30, 35, 40, 45])
        else:
            ax.set_ylim(40, 81)
            ax.set_yticks([40, 50, 60, 70, 80])
        ax.set_xticks(kk)
        ax.set_xlabel(r'$k$', fontsize=25)
        ax.xaxis.set_label_coords(0.5, -0.085)
        if c == 0:
            ax.set_ylabel(r'$\mathrm{precision}$', fontsize=24)
            ax.yaxis.set_label_coords(-0.125, 0.545)
        if c == 1:
            ax.legend([hs[n] for n in methods], methods, loc=legend_locs[r], **leg_kw)
        finish(ax)
    # precision-recall rows
    r = 2 * g + 1
    for c in range(4):
        ax = add_ax(r, c)
        data = pr_panels[g][c]
        hs = {}
        for name in reversed(methods):
            if name in data:
                pts = np.array(data[name])
                hs[name], = ax.plot(pts[:, 0], pts[:, 1], **style(name, True))
        ax.set_xlim(0, 100)
        ax.set_xticks([20, 40, 60, 80, 100])
        if g == 0:
            ax.set_ylim(10, 45)
            ax.set_yticks([10, 20, 30, 40, 45])
        else:
            ax.set_ylim(0, 95.5)
            ax.set_yticks([10, 20, 30, 40, 50, 60, 70, 80, 90])
        ax.set_xlabel(r'$\mathrm{recall}$', fontsize=25)
        ax.xaxis.set_label_coords(0.5, -0.08 if g == 0 else -0.07)
        if c == 0:
            ax.set_ylabel(r'$\mathrm{precision}$', fontsize=24)
            ax.yaxis.set_label_coords(-0.125, 0.535)
        if c == 1:
            ax.legend([hs[n] for n in methods], methods, loc=legend_locs[r], **leg_kw)
        finish(ax)

# column titles
for c, b in enumerate(bits):
    xc = (col_left[c] + row_right[0][c]) / 2 / W
    fig.text(xc, 1 - 16 / H, r'$b \,=\, %d$' % b, ha='center', va='center', fontsize=27)


# row group labels with dot leaders
def group_label(label, size, y_top_dots, y_label, y_bot_dots, n_top, n_bot):
    fig.text(23 / W, 1 - y_top_dots / H, ' '.join(['.'] * n_top), rotation=90, ha='center', va='center',
             fontsize=18, family='DejaVu Serif')
    fig.text(18 / W, 1 - y_label / H, label, rotation=90, ha='center', va='center', fontsize=size)
    fig.text(23 / W, 1 - y_bot_dots / H, ' '.join(['.'] * n_bot), rotation=90, ha='center', va='center',
             fontsize=18, family='DejaVu Serif')


group_label(r'$\mathrm{CIFAR}$', 27, 162, 324, 487, 11, 11)
group_label(r'$\mathrm{infinite\ MNIST}$', 25, 808, 1000, 1190, 9, 9)

fig.savefig('out.png', dpi=100)
